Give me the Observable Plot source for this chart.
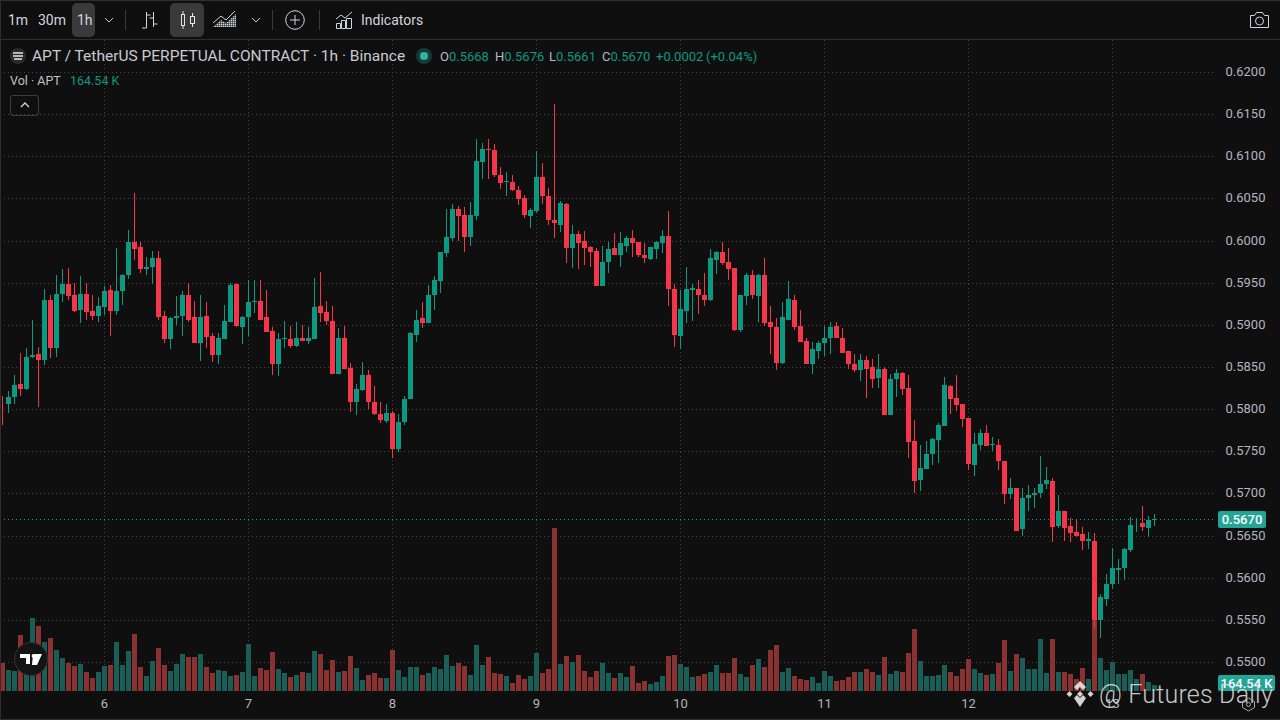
<!DOCTYPE html>
<html><head><meta charset="utf-8">
<script src="https://cdn.jsdelivr.net/npm/d3@7"></script>
<script src="https://cdn.jsdelivr.net/npm/@observablehq/plot@0.6"></script>
<style>
html,body{margin:0;padding:0;background:#0f0f0f}
#c{position:relative;width:1280px;height:720px;overflow:hidden;background:#0f0f0f;font-family:Roboto,sans-serif;color:#d1d4dc}
#c>svg,#c svg.lay{position:absolute;left:0;top:0}
.t{position:absolute;white-space:nowrap;line-height:1}
.ic{position:absolute;overflow:visible}
.sep{position:absolute;width:1px;top:10px;height:20px;background:#3a3a3a}
.btn{position:absolute;background:#3a3a3a;border-radius:5px;top:3px;height:34px}
.g{color:#089981}
</style></head><body><div id="c"></div>
<script>
// prices in ticks of 0.0001; one candle per hour
const opens=[5809,5806,5814,5830,5824,5862,5865,5858,5929,5872,5937,5949,5936,5918,5937,5916,5911,5921,5941,5916,5940,5959,5998,5992,5966,5969,5979,5911,5883,5908,5910,5935,5909,5879,5910,5887,5864,5883,5903,5948,5898,5909,5927,5928,5909,5893,5854,5883,5883,5875,5885,5881,5883,5922,5915,5905,5842,5885,5849,5809,5823,5840,5808,5794,5786,5796,5753,5785,5812,5888,5908,5902,5935,5952,5985,6003,6037,6030,6004,6029,6093,6109,6108,6078,6069,6069,6060,6050,6029,6035,6075,6053,6025,6019,6043,5991,6008,5999,5992,5988,5946,5974,5991,5983,5994,6003,5998,5983,5978,5990,5997,6005,5943,5887,5917,5941,5943,5935,5929,5977,5986,5974,5967,5894,5934,5959,5934,5959,5903,5898,5855,5906,5930,5899,5881,5854,5869,5878,5884,5899,5885,5869,5854,5847,5858,5850,5837,5848,5793,5836,5843,5825,5762,5716,5729,5747,5763,5780,5828,5813,5806,5790,5734,5758,5772,5758,5758,5739,5699,5706,5658,5694,5698,5700,5711,5715,5661,5679,5661,5654,5652,5644,5644,5550,5575,5592,5609,5611,5633,5662,5665,5659,5668];
const highs=[5816,5822,5840,5867,5872,5906,5874,5943,5935,5959,5966,5968,5950,5958,5950,5935,5933,5946,5947,5991,5960,6012,6056,5998,5980,5988,5988,5916,5909,5934,5940,5950,5928,5935,5927,5890,5890,5924,5950,5950,5911,5953,5953,5953,5941,5898,5890,5904,5899,5903,5900,5897,5956,5963,5928,5922,5896,5899,5855,5830,5856,5846,5828,5809,5806,5798,5794,5816,5892,5918,5927,5947,5958,5987,6037,6043,6041,6040,6046,6121,6116,6121,6115,6087,6081,6078,6065,6054,6039,6106,6092,6062,6162,6047,6044,6019,6011,6011,5993,5991,5993,5998,6009,6010,6005,6012,5998,5997,5992,5999,6012,6035,5949,5941,5969,5949,5953,5961,5990,5988,5998,5991,5967,5936,5961,5965,5960,5979,5922,5908,5927,5952,5935,5918,5884,5880,5881,5899,5903,5903,5896,5869,5865,5865,5863,5859,5865,5850,5842,5848,5844,5841,5787,5757,5762,5766,5784,5838,5829,5840,5806,5790,5772,5777,5781,5767,5764,5739,5718,5706,5706,5710,5706,5744,5731,5718,5698,5679,5671,5669,5660,5654,5653,5581,5604,5635,5622,5635,5672,5671,5685,5673,5676];
const lows=[5781,5795,5806,5816,5823,5861,5802,5852,5861,5862,5927,5929,5915,5902,5906,5906,5903,5912,5887,5912,5923,5954,5977,5961,5959,5949,5906,5879,5871,5900,5887,5903,5878,5857,5872,5856,5853,5883,5903,5897,5877,5887,5914,5906,5892,5840,5839,5873,5872,5874,5881,5877,5883,5903,5900,5842,5842,5848,5797,5793,5822,5800,5793,5784,5783,5742,5749,5781,5812,5880,5896,5902,5918,5938,5980,5999,5999,5986,5994,6024,6073,6073,6076,6061,6053,6059,6042,6027,6015,6033,6043,6019,6003,6010,5973,5968,5966,5971,5969,5946,5946,5961,5983,5969,5987,5980,5981,5973,5977,5978,5985,5922,5874,5871,5902,5905,5913,5922,5928,5960,5971,5953,5893,5891,5924,5931,5903,5899,5865,5846,5853,5906,5894,5880,5854,5842,5860,5863,5866,5884,5867,5848,5844,5833,5813,5825,5825,5793,5793,5815,5817,5742,5700,5703,5729,5734,5736,5780,5794,5798,5779,5728,5721,5752,5756,5750,5728,5688,5693,5656,5649,5679,5683,5694,5705,5642,5659,5643,5642,5648,5633,5634,5540,5529,5566,5587,5593,5597,5630,5654,5655,5648,5661];
const closes=[5808,5814,5829,5824,5862,5864,5858,5929,5872,5937,5948,5934,5917,5937,5915,5911,5922,5940,5916,5940,5959,5998,5990,5966,5969,5979,5909,5883,5908,5910,5935,5906,5878,5909,5886,5864,5884,5904,5947,5899,5909,5927,5928,5906,5892,5854,5883,5884,5875,5885,5881,5884,5921,5914,5904,5842,5885,5848,5809,5824,5840,5808,5794,5787,5796,5753,5785,5812,5890,5906,5902,5936,5953,5986,6004,6037,6029,6004,6030,6094,6109,6108,6078,6068,6071,6060,6049,6030,6036,6075,6053,6024,6021,6044,5991,6008,5997,5991,5987,5946,5975,5990,5983,5997,6003,5997,5983,5979,5992,5998,6005,5943,5888,5919,5943,5944,5935,5930,5979,5987,5973,5966,5894,5935,5959,5935,5959,5902,5898,5855,5909,5931,5898,5880,5854,5871,5879,5884,5898,5884,5867,5853,5847,5858,5848,5836,5848,5793,5836,5843,5824,5761,5715,5730,5747,5765,5781,5829,5812,5805,5788,5735,5759,5772,5756,5759,5739,5699,5706,5656,5694,5698,5700,5711,5716,5660,5679,5659,5653,5649,5644,5646,5550,5577,5593,5611,5612,5634,5663,5663,5660,5668,5670];
// volume in thousands of APT
const volumes=[768,576,548,1536,484,2002,1782,1344,1453,1124,905,768,686,740,521,356,521,686,713,1344,713,1097,1563,658,411,823,1179,713,548,740,1015,932,932,1015,658,494,576,548,411,439,521,1289,411,631,576,1069,603,494,384,439,521,494,1097,1015,576,850,521,548,960,631,302,439,494,356,356,1124,576,384,658,658,439,494,658,603,987,686,768,686,439,1261,713,932,494,466,411,219,439,329,411,1042,494,603,4469,740,960,795,987,548,384,548,768,494,356,494,384,686,219,274,192,247,411,960,987,740,658,384,411,466,521,713,494,494,905,466,384,713,877,658,1124,1261,521,631,411,329,302,384,219,548,411,274,302,384,521,521,603,521,439,932,466,548,521,1042,1700,823,411,411,439,713,521,411,603,877,603,494,439,466,768,1398,548,1015,905,603,603,1426,494,1426,521,521,466,329,631,329,2495,905,576,795,466,466,576,329,466,247,165];
const priceTicks=[5500,5550,5600,5650,5700,5750,5800,5850,5900,5950,6000,6050,6100,6150,6200];
const dayLabels=[6,7,8,9,10,11,12,13];
const RED="#f6354a",GREEN="#089b81",VRED="#8a3232",VGREEN="#1a5f57",GRID="#454545",AXIS="#b2b5be";

const start=new Date(Date.UTC(2025,0,5,7));
const rows=opens.map((o,i)=>({t:d3.utcHour.offset(start,i),o,h:highs[i],l:lows[i],c:closes[i],v:volumes[i]}));
const days=dayLabels.map(d=>new Date(Date.UTC(2025,0,d)));
const xs={type:"utc",domain:[rows[0].t,rows[rows.length-1].t],range:[2,1154]};
const common={width:1280,height:720,marginLeft:0,marginRight:67,marginTop:40,marginBottom:28,
  style:{background:"transparent",fontFamily:"Roboto,sans-serif",position:"absolute",left:"0",top:"0"}};
const col=(d,g,r)=>d.c>=d.o?g:r;

const volPlot=Plot.plot({...common,x:{...xs,axis:null},y:{domain:[0,18947],range:[691,0],round:true,axis:null},color:{type:"identity"},
  marks:[Plot.ruleX(rows,{x:"t",y1:0,y2:"v",stroke:d=>col(d,VGREEN,VRED),strokeWidth:5})]});

const pricePlot=Plot.plot({...common,x:{...xs,axis:null},y:{domain:[5500,6200],range:[662,72],round:true,axis:null},color:{type:"identity"},
  marks:[
    Plot.ruleY(priceTicks,{stroke:GRID,strokeDasharray:"1,3"}),
    Plot.ruleX(days,{stroke:GRID,strokeDasharray:"1,3"}),
    Plot.ruleY([closes[closes.length-1]],{stroke:"#1f9e8a",strokeDasharray:"1,3"}),
    Plot.axisY(priceTicks,{anchor:"right",tickSize:0,tickPadding:12,dy:-1,fill:AXIS,fontSize:13,tickFormat:d=>(d/1e4).toFixed(4),label:null}),
    Plot.axisX(days,{anchor:"bottom",tickSize:0,tickPadding:6,fill:AXIS,fontSize:13,tickFormat:d=>String(d.getUTCDate()),label:null}),
    Plot.ruleX(rows,{x:"t",y1:"l",y2:"h",stroke:d=>col(d,GREEN,RED),strokeWidth:1}),
    Plot.ruleX(rows,{x:"t",y1:"o",y2:"c",stroke:d=>col(d,GREEN,RED),strokeWidth:5})
  ]});

const c=document.getElementById("c");
c.append(volPlot,pricePlot);
const overlay=document.createElement("div");
overlay.innerHTML=`
<div style="position:absolute;left:0;top:0;width:1px;height:720px;background:#2e2e2e"></div>
<div style="position:absolute;left:0;top:0;width:1280px;height:1px;background:#2e2e2e"></div>
<div style="position:absolute;left:0;top:39px;width:1280px;height:1px;background:#2e2e2e"></div>
<div style="position:absolute;left:0;top:719px;width:1280px;height:1px;background:#2e2e2e"></div>
<div class="btn" style="left:72px;width:23px"></div>
<div class="btn" style="left:170px;width:34px"></div>
<span class="t" style="left:8px;top:13px;font-size:14px">1m</span>
<span class="t" style="left:38px;top:13px;font-size:14px">30m</span>
<span class="t" style="left:77px;top:13px;font-size:14px">1h</span>
<svg class="ic" style="left:104px;top:17px" width="10" height="6" fill="none" stroke="#c5c8d0"><path d="M1 1l4 4 4-4"/></svg>
<div class="sep" style="left:125px"></div>
<svg class="ic" style="left:142px;top:12px" width="16" height="17" fill="none" stroke="#d1d4dc"><path d="M4.500 0v16M0 16h4.500M4.500 3h4M11.500 0v15M7.500 6h4M11.500 12h4"/></svg>
<svg class="ic" style="left:180px;top:10px" width="16" height="20" fill="none" stroke="#e5e5e5"><rect x="1.5" y="4.5" width="3" height="11"/><path d="M3 1v3M3 16v3"/><rect x="10.5" y="6.5" width="4" height="7"/><path d="M12.5 3v3M12.5 14v3"/></svg>
<svg class="ic" style="left:213px;top:10px" width="24" height="18" fill="none" stroke="#d1d4dc"><defs><pattern id="h" width="2" height="2" patternUnits="userSpaceOnUse"><rect width="1" height="1" fill="#d1d4dc"/></pattern></defs><path d="M0 17l8-7 5 3 10-9v13z" fill="url(#h)" stroke="none"/><path d="M0 13l8-7 5 4 9-9"/></svg>
<svg class="ic" style="left:251px;top:17px" width="10" height="6" fill="none" stroke="#c5c8d0"><path d="M1 1l4 4 4-4"/></svg>
<div class="sep" style="left:272px"></div>
<svg class="ic" style="left:285px;top:10px" width="20" height="20" fill="none" stroke="#d1d4dc"><circle cx="10" cy="10" r="9.3"/><path d="M10 5v10M5 10h10"/></svg>
<div class="sep" style="left:319px"></div>
<svg class="ic" style="left:335px;top:11px" width="18" height="18" fill="none" stroke="#d1d4dc"><path d="M1 8l5-4 4 3 7-6"/><path d="M1.5 12.5h4v5h-4zM6.5 9.5h4v8h-4zM11.5 7.5h5v10h-5z"/></svg>
<span class="t" style="left:361px;top:13px;font-size:14px">Indicators</span>
<svg class="ic" style="left:1249px;top:11px" width="21" height="18" fill="none" stroke="#d1d4dc"><path d="M1.5 4.5h4l2-3h6l2 3h4v12h-18z"/><circle cx="10.5" cy="10" r="4"/></svg>
<svg class="ic" style="left:10px;top:48px" width="16" height="16"><circle cx="8" cy="8" r="8" fill="#2a2a2a"/><path d="M3 5h10M3 8h10M4 11h8" stroke="#e8e8e8" stroke-width="1.6"/></svg>
<span class="t" style="left:32px;top:49px;font-size:15.5px;color:#c8cad0">APT / TetherUS PERPETUAL CONTRACT · 1h · Binance</span>
<svg class="ic" style="left:416px;top:48px" width="16" height="16"><circle cx="8" cy="8" r="8" fill="#173a37"/><circle cx="8" cy="8" r="4" fill="#2bb5a5"/></svg>
<span class="t" style="left:440px;top:50px;font-size:13px;color:#b8bac0">O<span class="g">0.5668</span></span>
<span class="t" style="left:495px;top:50px;font-size:13px;color:#b8bac0">H<span class="g">0.5676</span></span>
<span class="t" style="left:549px;top:50px;font-size:13px;color:#b8bac0">L<span class="g">0.5661</span></span>
<span class="t" style="left:602px;top:50px;font-size:13px;color:#b8bac0">C<span class="g">0.5670</span></span>
<span class="t g" style="left:656px;top:50px;font-size:13px">+0.0002</span>
<span class="t g" style="left:706px;top:50px;font-size:13px">(+0.04%)</span>
<span class="t" style="left:10px;top:75px;font-size:12.5px;color:#c0c2c8">Vol · APT</span>
<span class="t g" style="left:70px;top:75px;font-size:12.5px">164.54 K</span>
<div style="position:absolute;left:10px;top:95px;width:27px;height:19px;border:1px solid #3c3c3c;border-radius:3px"></div>
<svg class="ic" style="left:20px;top:102px" width="10" height="6" fill="none" stroke="#d1d4dc" stroke-width="1.3"><path d="M1 5l4-4 4 4"/></svg>
<div class="t" style="left:1218px;top:511px;width:48px;height:17px;line-height:17px;text-align:center;background:#22a596;border-radius:2px;color:#fff;font-size:13px;font-weight:500">0.5670</div>
<div class="t" style="left:1218px;top:675px;width:57px;height:16px;line-height:17px;text-align:center;background:#22a596;border-radius:2px;color:#fff;font-size:13px;font-weight:500">164.54 K</div>
<svg class="ic" style="left:13px;top:641px" width="36" height="36"><circle cx="18" cy="18" r="16.5" fill="#141414" stroke="#333"/><path d="M7 12h10v10h-4v-6H7zM20 12h9l-5 11h-5z" fill="#fff" transform="translate(0 1)"/><circle cx="20.5" cy="15" r="1.9" fill="#fff"/></svg>
<svg class="ic" style="left:1066px;top:680px" width="28" height="28" fill="#e4e4e4" opacity=".92"><path d="M14 1l6 6-3 3-3-3-3 3-3-3zM3.500 11l3 3-3 3-3-3zM24.500 11l3 3-3 3-3-3zM14 11l3 3-3 3-3-3zM8 18l3-3 3 3 3-3 3 3-6 9z"/></svg>
<span class="t" style="left:1099px;top:682px;font-size:25px;color:#dcdcdc;opacity:.9;letter-spacing:.2px;font-weight:300">@ Futures Daily</span>
<svg class="ic" style="left:1241px;top:697px" width="15" height="15" fill="none" stroke="#a8a8a8"><path d="M7.500 1l6 3.500v6l-6 3.500-6-3.500v-6z"/><circle cx="7.500" cy="7.500" r="2"/></svg>
`;
c.append(overlay);
</script></body></html>
